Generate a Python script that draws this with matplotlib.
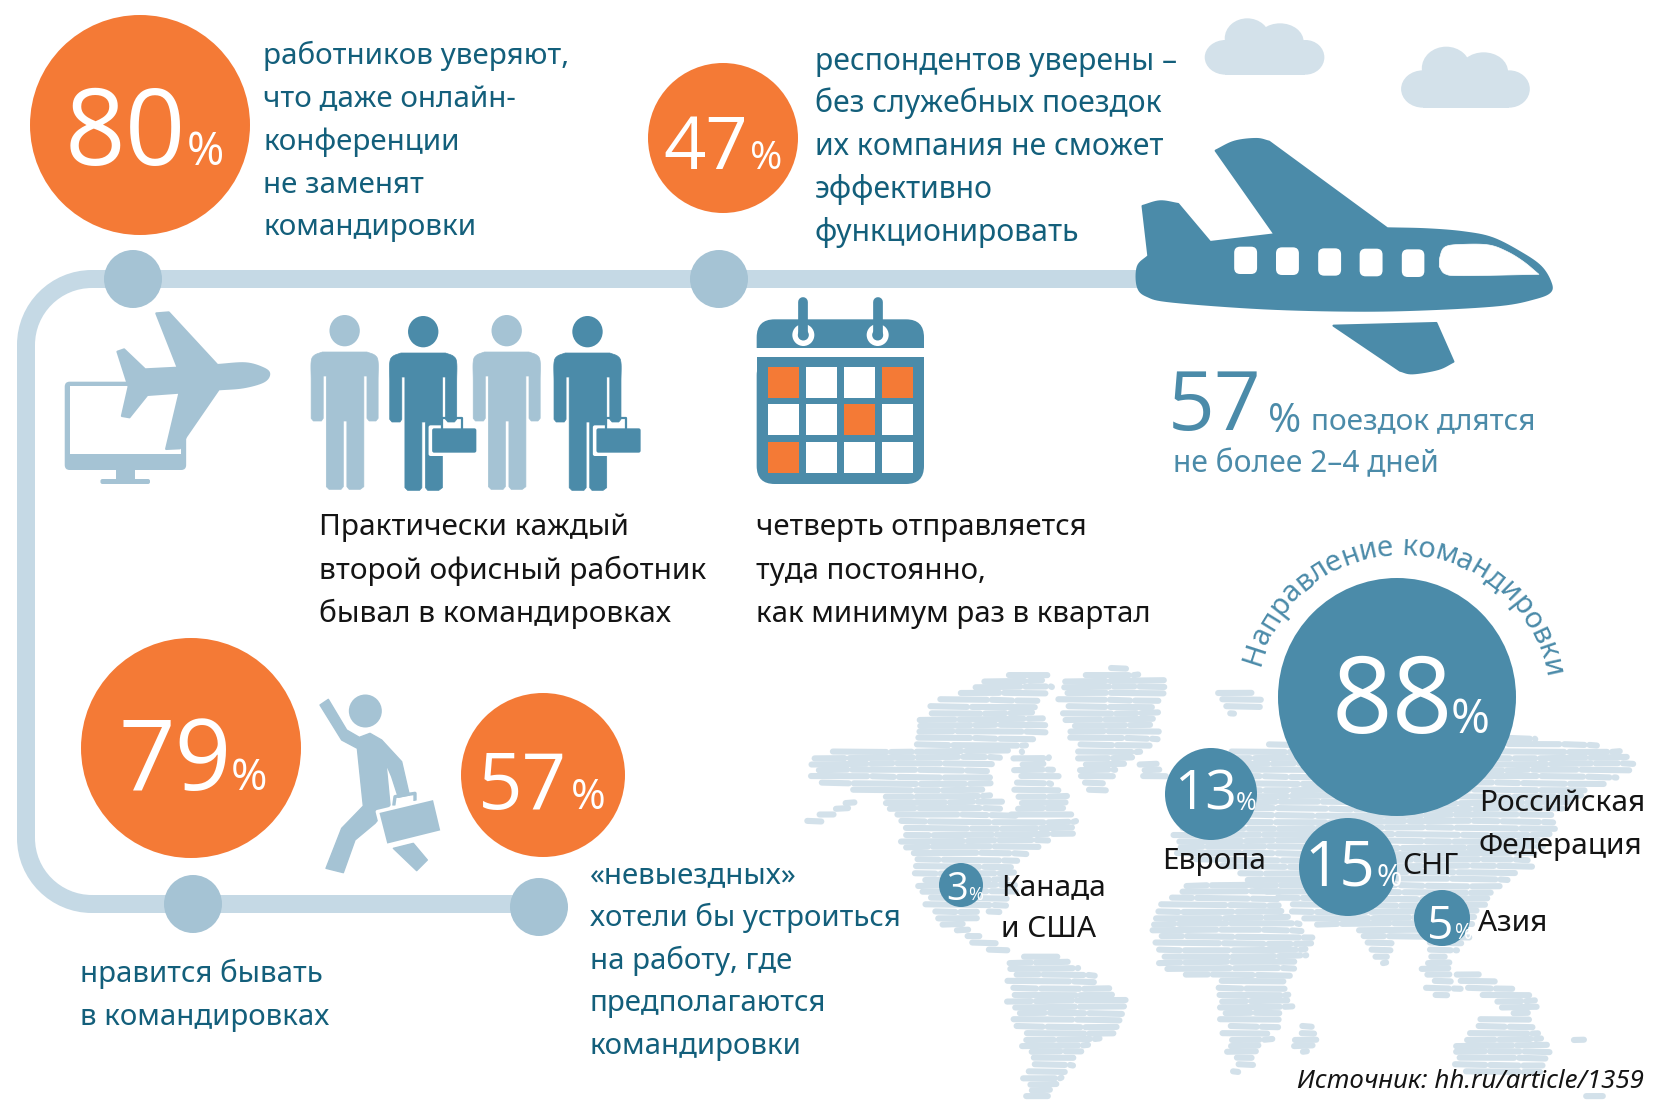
import matplotlib
matplotlib.use("Agg")
import matplotlib.pyplot as plt
from matplotlib.patches import Polygon, Circle, Ellipse, FancyBboxPatch, Rectangle, PathPatch
from matplotlib.path import Path
from matplotlib.collections import LineCollection
from matplotlib.textpath import text_to_path
from matplotlib.font_manager import FontProperties
import numpy as np

# ---------- data ----------
stat_values = [80, 47, 79, 57]
region_values = [88, 13, 15, 5, 3]
region_names = [["Российская", "Федерация"], ["Европа"], ["СНГ"], ["Азия"], ["Канада", "и США"]]
trip_share = 57
text_work = ["работников уверяют,", "что даже онлайн-", "конференции", "не заменят", "командировки"]
text_resp = ["респондентов уверены –", "без служебных поездок", "их компания не сможет", "эффективно", "функционировать"]
text_trip = ["% поездок длятся", "не более 2–4 дней"]
text_office = ["Практически каждый", "второй офисный работник", "бывал в командировках"]
text_quarter = ["четверть отправляется", "туда постоянно,", "как минимум раз в квартал"]
text_like = ["нравится бывать", "в командировках"]
text_stay = ["«невыездных»", "хотели бы устроиться", "на работу, где", "предполагаются", "командировки"]
map_title = "Направление командировки"
source = "Источник: hh.ru/article/1359"
calendar_marked = [(0, 0), (3, 0), (2, 1), (0, 2)]

ORANGE = "#f47a36"
BLUE = "#4b8ba9"
PALE = "#a5c3d4"
LINE = "#c5d9e5"
CLOUD = "#d3e1ea"
TEAL = "#135f7b"
INK = "#141414"
FONT = "Noto Sans"
NUM = "Open Sans"
TS = 21.5

fig = plt.figure(figsize=(16.67, 11.13), dpi=100, facecolor="white")
ax = fig.add_axes([0, 0, 1, 1])
ax.set_xlim(0, 1667)
ax.set_ylim(1113, 0)
ax.axis("off")


def pts(points, x0, y0, fx, fy):
    return [(x0 + p[0] / fx, y0 + p[1] / fy) for p in points]


def spline(p, n=8):
    """Catmull-Rom curve through the listed outline points."""
    p = np.array(p, float)
    q = np.vstack([2 * p[0] - p[1], p, 2 * p[-1] - p[-2]])
    out = []
    for i in range(1, len(q) - 2):
        for t in np.linspace(0, 1, n, endpoint=False):
            out.append(0.5 * (2 * q[i] + (q[i + 1] - q[i - 1]) * t
                              + (2 * q[i - 1] - 5 * q[i] + 4 * q[i + 1] - q[i + 2]) * t ** 2
                              + (3 * q[i] - q[i - 1] - 3 * q[i + 1] + q[i + 2]) * t ** 3))
    out.append(p[-1])
    return [tuple(a) for a in out]


def poly(points, color, z=3, lw=1.5):
    ax.add_patch(Polygon(points, closed=True, fc=color, ec=color, lw=lw, joinstyle="round", zorder=z))


def rrect(x0, y0, x1, y1, r, color, z=3, ec="none", lw=0):
    ax.add_patch(FancyBboxPatch((x0 + r, y0 + r), x1 - x0 - 2 * r, y1 - y0 - 2 * r,
                                boxstyle=f"round,pad={r},rounding_size={r}",
                                fc=color, ec=ec, lw=lw, zorder=z))


def block(lines, x, baselines, color, size=TS):
    for s, b in zip(lines, baselines):
        ax.text(x, b, s, color=color, fontsize=size, family=FONT, ha="left", va="baseline", zorder=8)


def number(value, xc, base, em, px, pem, color="white"):
    ax.text(xc, base, str(value), color=color, fontsize=em * 0.72, family=NUM, ha="center", va="baseline", zorder=8)
    ax.text(px, base, "%", color=color, fontsize=pem * 0.72, family=NUM, ha="left", va="baseline", zorder=8)


# ---------- world map ----------
def z4(p):
    return pts(p, 800, 640, 1.8, 3.0)


continents = [
    [(25,345),(90,315),(200,320),(210,260),(250,185),(300,145),(380,100),(440,95),(450,170),(420,190),(440,270),
     (420,310),(370,330),(340,370),(345,470),(385,530),(395,440),(390,330),(440,340),(470,460),(505,590),(460,600),
     (400,640),(380,700),(385,790),(350,830),(330,800),(300,860),(380,935),(350,940),(280,880),(230,800),(210,680),
     (180,560),(150,470),(100,450),(30,440)],
    [(20,545),(90,470),(110,480),(40,550)],
    [(470,170),(490,110),(570,80),(670,130),(635,200),(640,290),(570,380),(535,470),(510,400),(490,280)],
    [(760,160),(820,145),(830,210),(780,220)],
    [(380,960),(450,930),(510,990),(580,1080),(560,1180),(500,1250),(440,1380),(405,1380),(415,1250),(380,1080)],
    [(660,780),(720,720),(850,740),(880,830),(930,900),(890,980),(880,1100),(830,1230),(790,1310),(770,1200),
     (750,1020),(660,1000),(640,880)],
    [(900,1150),(925,1140),(920,1230),(895,1240)],
    [(780,330),(850,310),(1300,290),(1470,320),(1500,390),(1420,450),(1370,500),(1340,600),(1310,680),(1260,730),
     (1230,800),(1210,900),(1150,960),(1120,900),(1060,900),(1050,975),(1010,860),(920,850),(860,770),(780,690),
     (680,640),(680,560),(730,400)],
    [(615,370),(650,370),(650,420),(620,420)],
    [(1120,950),(1160,960),(1190,1060),(1140,1070)],
    [(1180,990),(1240,1010),(1340,1090),(1300,1130),(1200,1040)],
    [(1180,1230),(1230,1130),(1300,1130),(1350,1250),(1340,1310),(1250,1300),(1190,1300)],
    [(1400,1190),(1420,1180),(1390,1230)],
    [(1410,1360),(1440,1365),(1430,1385)],
]
segs = []
row_ys = np.arange(668, 1112, 6.4)
sample = np.arange(800, 1667, 1.0)
for c in continents:
    path = Path(z4(c) + [z4(c)[0]])
    for k, y in enumerate(row_ys):
        inside = path.contains_points(np.column_stack([sample, np.full_like(sample, y)]), radius=0)
        if not inside.any():
            continue
        edges = np.flatnonzero(np.diff(np.r_[0, inside.astype(int), 0]))
        for a, b in zip(edges[::2], edges[1::2]):
            x0 = sample[a] + 5 * np.sin(k * 2.3 + a)
            x1 = sample[b - 1] + 5 * np.sin(k * 1.7 + b)
            x = x0
            m = 0
            while x < x1:
                L = 42 + 22 * np.sin(k * 3.1 + m * 1.9)
                end = min(x + L, x1)
                segs.append([(x, y + 0.8 * np.sin(k + m)), (end, y + 0.8 * np.sin(k + m + 1))])
                x = end + 5
                m += 1
ax.add_collection(LineCollection(segs, colors=CLOUD, linewidths=4.4, capstyle="round", zorder=1))

# ---------- route line ----------
LW = 18 * 0.72
x_l, y_t, y_b, rad = 26, 279, 904, 66
kappa = 0.5523 * rad
route = Path(
    [(1160, y_t), (x_l + rad, y_t), (x_l + rad - kappa, y_t), (x_l, y_t + rad - kappa), (x_l, y_t + rad),
     (x_l, y_b - rad), (x_l, y_b - rad + kappa), (x_l + rad - kappa, y_b), (x_l + rad, y_b), (539, y_b)],
    [Path.MOVETO, Path.LINETO, Path.CURVE4, Path.CURVE4, Path.CURVE4, Path.LINETO, Path.CURVE4, Path.CURVE4,
     Path.CURVE4, Path.LINETO])
ax.add_patch(PathPatch(route, fc="none", ec=LINE, lw=LW, zorder=2, capstyle="butt"))
for x, y in [(133, 279), (719, 279), (193, 904), (539, 907)]:
    ax.add_patch(Ellipse((x, y), 58, 58, fc=PALE, ec="none", zorder=3))

# ---------- orange circles ----------
stat_layout = [
    (140, 125, 110, 125.6, 165, 106, 187, 45),
    (723, 138, 75, 706, 169, 74, 750, 39),
    (191, 748, 110, 175, 790, 99, 231, 44),
    (543, 775, 82, 522.5, 809, 78, 571, 42),
]
for v, (cx, cy, r, nx, nb, em, px, pem) in zip(stat_values, stat_layout):
    ax.add_patch(Circle((cx, cy), r, fc=ORANGE, ec="none", zorder=5))
    number(v, nx, nb, em, px, pem)

# ---------- region circles ----------
region_layout = [
    (1397, 697, 119, 1392, 733, 106, 1451, 47),
    (1211, 794, 46, 1205, 810, 55, 1236, 25),
    (1348, 867, 49, 1340, 886, 62, 1376, 31),
    (1442, 918, 28, 1440, 939, 46, 1455, 21),
    (961, 885, 22, 957, 900, 38, 968, 18),
]
for v, (cx, cy, r, nx, nb, em, px, pem) in zip(region_values, region_layout):
    ax.add_patch(Circle((cx, cy), r, fc=BLUE, ec="none", zorder=5))
    number(v, nx, nb, em, px, pem)

label_layout = [(1479, [811, 854]), (1162, [869]), (1402, [874]), (1478, [931]), (1001, [895, 937])]
for names, (x, bases) in zip(region_names, label_layout):
    block(names, x, bases, INK)

# curved title
fp = FontProperties(family=FONT, size=21)
cx, cy, R = 1401, 701, 146
widths = []
for ch in map_title:
    w = text_to_path.get_text_width_height_descent(ch, fp, ismath=False)[0] / 0.72
    widths.append(w * 0.98)
total = sum(widths)
ang = -total / 2 + 6
for ch, w in zip(map_title, widths):
    th = ang + w / 2
    a = th / R
    x, y = cx + R * np.sin(a), cy - R * np.cos(a)
    ax.text(x, y, ch, fontsize=21, family=FONT, color=BLUE, rotation=-np.degrees(a),
            rotation_mode="anchor", ha="center", va="baseline", zorder=8)
    ang += w

ax.text(1644, 1088, source, color=INK, fontsize=18.7, family=FONT, style="italic", ha="right", va="baseline", zorder=8)

# ---------- text blocks ----------
block(text_work, 263, [64, 107, 150, 193, 235], TEAL, 21.3)
block(text_resp, 815, [70, 112, 155, 198, 241], TEAL, 21.7)
block(text_office, 319, [535, 579, 622], INK)
block(text_quarter, 756, [535, 579, 622], INK, 21.2)
block(text_like, 80, [982, 1025], TEAL, 21.2)
block(text_stay, 590, [883, 926, 969, 1011, 1054], TEAL, 21.2)
ax.text(1215, 430, str(trip_share), color=BLUE, fontsize=59, family=NUM, ha="center", va="baseline", zorder=8)
ax.text(1268, 432, text_trip[0][0], color=BLUE, fontsize=29, family=NUM, ha="left", va="baseline", zorder=8)
ax.text(1311, 429, text_trip[0][2:], color=BLUE, fontsize=21.5, family=FONT, ha="left", va="baseline", zorder=8)
ax.text(1173, 472, text_trip[1], color=BLUE, fontsize=21.6, family=FONT, ha="left", va="baseline", zorder=8)


# ---------- clouds ----------
def z1(p):
    return pts(p, 1100, 0, 2.75, 3.0)


def cloud(lobes, base):
    for (x, y, rx, ry) in lobes:
        c = z1([(x, y)])[0]
        ax.add_patch(Ellipse(c, 2 * rx / 2.75, 2 * ry / 3, fc=CLOUD, ec="none", zorder=1))
    (a, b), (c, d) = z1([(base[0], base[1]), (base[2], base[3])])
    ax.add_patch(Rectangle((a, b), c - a, d - b, fc=CLOUD, ec="none", zorder=1))


cloud([(405, 115, 62, 60), (495, 125, 65, 55), (345, 172, 57, 52), (565, 172, 52, 52)], (345, 150, 565, 224))
cloud([(952, 205, 67, 65), (1055, 215, 67, 58), (888, 267, 60, 56), (1125, 267, 57, 56)], (888, 240, 1125, 323))

# ---------- large plane ----------
plane = ([(117,618)] + spline([(117,618),(165,604),(215,612)]) + [(303,726),(480,703)]
         + spline([(318,452),(370,425),(430,417),(465,425)])
         + spline([(790,685),(900,688),(1000,697),(1080,715),(1160,760),(1212,800),(1238,845),(1238,875),(1195,895),
                   (1100,915),(900,928),(700,932),(450,925),(200,905),(130,888),(104,860),(104,800),(133,768)]))
poly(z1(plane), BLUE, 4)
poly(z1([(642,977),(925,969),(972,1085)] + spline([(972,1085),(930,1107),(860,1120),(825,1112)])), BLUE, 4)
for x0, y0, x1, y1 in [(369,740,432,822),(484,742,547,825),(600,745,663,827),(714,746,777,829),(830,748,892,831)]:
    (a, b), (c, d) = z1([(x0, y0), (x1, y1)])
    rrect(a, b, c, d, 6, "white", 5)
poly(z1(spline([(933,800),(935,770),(950,740),(1000,733),(1070,735),(1120,755),(1165,785),(1207,823)])
        + spline([(1207,823),(1000,827),(950,822),(933,800)])), "white", 5, 0.5)


# ---------- monitor and small plane ----------
def z2(p):
    return pts(p, 0, 280, 2.24, 3.0)


(a, b), (c, d) = z2([(145, 305), (417, 570)])
rrect(a, b, c, d, 5, PALE, 3)
(a, b), (c, d) = z2([(157, 318), (405, 523)])
ax.add_patch(Rectangle((a, b), c - a, d - b, fc="white", ec="none", zorder=3))
poly(z2([(260,570),(303,570),(303,597),(260,597)]), PALE, 3, 0)
(a, b), (c, d) = z2([(225, 597), (336, 612)])
rrect(a, b, c, d, 2, PALE, 3)
poly(z2([(350,100),(378,97),(487,255)] + spline([(487,255),(550,250),(590,265),(603,282),(590,305),(545,322),(490,328)])
        + [(417,470),(403,505),(372,507),(402,338),(330,345),(290,412),(273,408),(288,320),(263,215),(278,208),(325,268),(398,263)]),
     PALE, 4)

# ---------- people ----------
person = (spline([(-75,300),(-75,245),(-68,226),(-50,216)]) + spline([(50,216),(68,226),(75,245),(75,300)])
          + [(75,415),(70,423),(55,423),(50,415),(50,288),(43,288),
             (43,620),(35,628),(10,628),(5,620),(5,423),(-3,423),(-3,620),(-8,628),(-35,628),(-41,620),(-41,288),
             (-48,288),(-48,415),(-52,423),(-70,423),(-75,415)])
for cx_p, dy, col, brief in [(772, 0, PALE, False), (948, 3, BLUE, True), (1135, 0, PALE, False), (1316, 3, BLUE, True)]:
    poly(z2([(cx_p + p[0], dy + p[1]) for p in person]), col, 3, 0.5)
    c = z2([(cx_p, 152 + dy)])[0]
    ax.add_patch(Ellipse(c, 68 / 2.24, 94 / 3, fc=col, ec="none", zorder=3))
    if brief:
        (a, b), (c2, d) = z2([(cx_p + 12, 436), (cx_p + 124, 528)])
        rrect(a, b, c2, d, 2, "white", 4)
        (a, b), (c2, d) = z2([(cx_p + 20, 445), (cx_p + 119, 518)])
        rrect(a, b, c2, d, 2, BLUE, 5)
        hp = z2([(cx_p + 42, 445), (cx_p + 42, 415), (cx_p + 87, 415), (cx_p + 87, 445)])
        ax.plot(*zip(*hp), color=BLUE, lw=1.6, zorder=4, solid_joinstyle="round")

# ---------- calendar ----------
def z3(p):
    return pts(p, 720, 280, 3.0, 3.0)


(a, b), (c, d) = z3([(110, 118), (612, 260)])
rrect(a, b, c, d, 18, BLUE, 3)
(a, b), (c, d) = z3([(100, 205), (622, 232)])
ax.add_patch(Rectangle((a, b), c - a, d - b, fc="white", ec="none", zorder=4))
(a, b), (c, d) = z3([(110, 232), (612, 612)])
ax.add_patch(Rectangle((a, b), c - a, 50, fc=BLUE, ec="none", zorder=4))
rrect(a, b, c, d, 18, BLUE, 4)
col_x = [145, 258, 372, 485]
row_y = [260, 372, 485]
for i, xx in enumerate(col_x):
    for j, yy in enumerate(row_y):
        (a, b), = z3([(xx, yy)])
        ax.add_patch(Rectangle((a, b), 31, 31, fc=ORANGE if (i, j) in calendar_marked else "white", ec="none", zorder=5))
for xx in [250, 473]:
    c = z3([(xx, 165)])[0]
    ax.add_patch(Circle(c, 11, fc="white", ec="none", zorder=5))
    ax.add_patch(Circle(c, 5.5, fc=BLUE, ec="none", zorder=6))
    ax.plot([c[0], c[0]], [z3([(0, 65)])[0][1], c[1]], color=BLUE, lw=7, solid_capstyle="round", zorder=7)


# ---------- walking man ----------
def z5(p):
    return pts(p, 300, 680, 3.0, 3.0)


ax.add_patch(Circle(z5([(196, 93)])[0], 16.5, fc=PALE, ec="none", zorder=3))
poly(z5([(60,75),(85,58),(140,150),(178,172),(210,160),(245,180),(305,245),(328,345),(295,352),(275,290),(258,250),
         (270,375),(225,430),(165,480),(130,578),(78,565),(125,445),(190,378),(172,205),(125,180)]), PALE, 3, 1)
poly(z5([(280,505),(340,490),(382,540),(350,572)]), PALE, 3, 1)
handle = z5([(282,372),(285,350),(312,345),(345,340),(345,358)])
ax.plot(*zip(*handle), color=PALE, lw=2.4, zorder=3)
ax.add_patch(Polygon(z5([(232,395),(403,354),(427,455),(258,497)]), closed=True, fc=PALE, ec="white", lw=2.5,
                     joinstyle="round", zorder=4))

fig.savefig("out.png", dpi=100)
